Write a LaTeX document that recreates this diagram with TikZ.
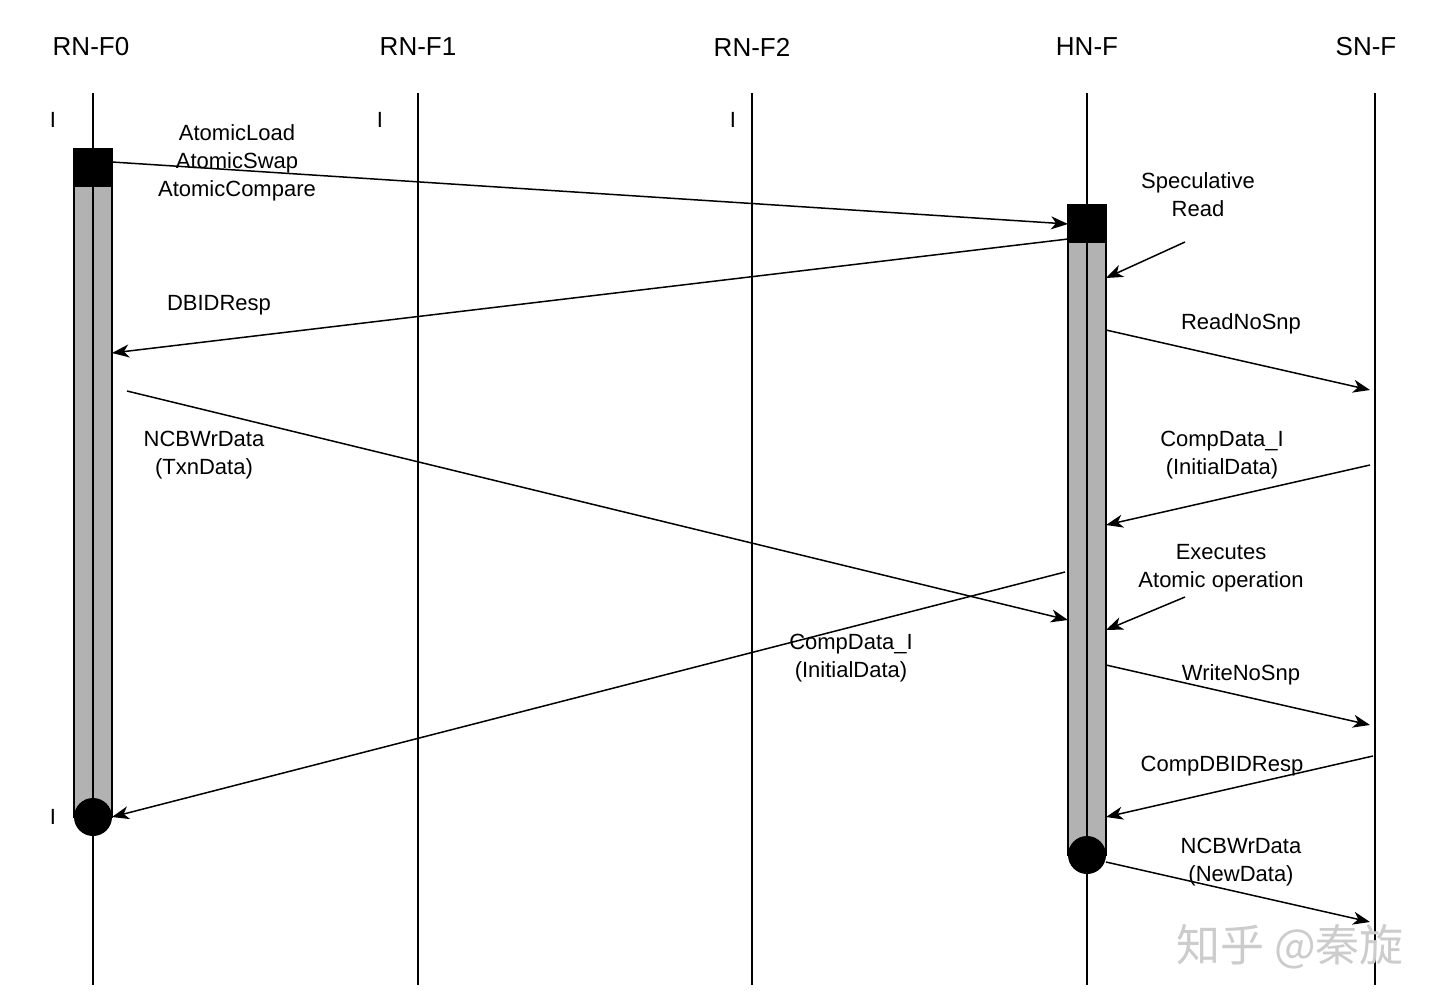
\documentclass[tikz,border=0pt]{standalone}
\usepackage{fontspec}
\setmainfont{Liberation Sans}
\newfontfamily\cjk{Noto Sans CJK SC}
\usetikzlibrary{arrows.meta}
\begin{document}
\begin{tikzpicture}[x=1pt,y=-1pt,
  every node/.style={font=\fontsize{22}{28}\selectfont},
  lbl/.style={align=center,inner sep=0},
  msg/.style={-{Stealth[length=17pt,width=13pt,inset=5pt]},line width=1.5pt},
  life/.style={line width=1.1pt}]
\useasboundingbox (0,0) rectangle (1440,1007);
\fill[white] (0,0) rectangle (1440,1007);
% lifelines heads
\foreach \n/\x/\t in {a/91/RN-F0,b/418/RN-F1,c/752/RN-F2,d/1087/HN-F,e/1366/SN-F}{
  \node[lbl,font=\fontsize{26}{30}\selectfont] (h\n) at (\x,47) {\t};
}
\foreach \n/\x in {a/93,b/418,c/752,d/1087,e/1375}{
  \coordinate (t\n) at (\x,93);
  \coordinate (b\n) at (\x,985);
}
% activation bars
\fill[gray!60] (74,149) rectangle (112,817);
\draw[line width=1.1pt] (74,149) rectangle (112,817);
\fill (74,149) rectangle (112,187);
\fill[gray!60] (1068,205) rectangle (1106,855);
\draw[line width=1.1pt] (1068,205) rectangle (1106,855);
\fill (1068,205) rectangle (1106,243);
\foreach \n in {a,b,c,d,e}{\draw[life] (t\n) -- (b\n);}
\fill (93,817) circle (19);
\fill (1087,855) circle (19);
% I marks
\foreach \x/\y in {53/120,380/120,733/120,53/817}{\node[lbl] at (\x,\y) {I};}
% coordinates
\coordinate (p1) at (112,162); \coordinate (q1) at (1068,224);
\coordinate (p2) at (1068,239); \coordinate (q2) at (112,353);
\coordinate (p3) at (1185,242); \coordinate (q3) at (1106,278);
\coordinate (p4) at (1106,330); \coordinate (q4) at (1370,390);
\coordinate (p5) at (1370,465); \coordinate (q5) at (1106,525);
\coordinate (p6) at (127,391); \coordinate (q6) at (1068,620);
\coordinate (p7) at (1185,597); \coordinate (q7) at (1106,630);
\coordinate (p8) at (1065,572); \coordinate (q8) at (112,817);
\coordinate (p9) at (1106,665); \coordinate (q9) at (1370,725);
\coordinate (p10) at (1373,756); \coordinate (q10) at (1106,817);
\coordinate (p11) at (1106,862); \coordinate (q11) at (1370,922);
\foreach \i in {1,...,11}{\draw[msg] (p\i) -- (q\i);}
% labels
\node[lbl] (l1) at (237,163) {AtomicLoad\\AtomicSwap\\AtomicCompare};
\node[lbl] (l2) at (219,305) {DBIDResp};
\node[lbl] (l3) at (1198,195) {Speculative\\Read};
\node[lbl] (l4) at (1241,324) {ReadNoSnp};
\node[lbl] (l5) at (1222,455) {CompData\_I\\(InitialData)};
\node[lbl] (l6) at (204,455) {NCBWrData\\(TxnData)};
\node[lbl] (l7) at (1221,568) {Executes\\Atomic operation};
\node[lbl] (l8) at (851,658) {CompData\_I\\(InitialData)};
\node[lbl] (l9) at (1241,675) {WriteNoSnp};
\node[lbl] (l10) at (1222,766) {CompDBIDResp};
\node[lbl] (l11) at (1241,862) {NCBWrData\\(NewData)};
\node[lbl,text=gray!40,font=\cjk\fontsize{44}{48}\selectfont] (wm) at (1290,947) {知乎 @秦旋};
\end{tikzpicture}
\end{document}
